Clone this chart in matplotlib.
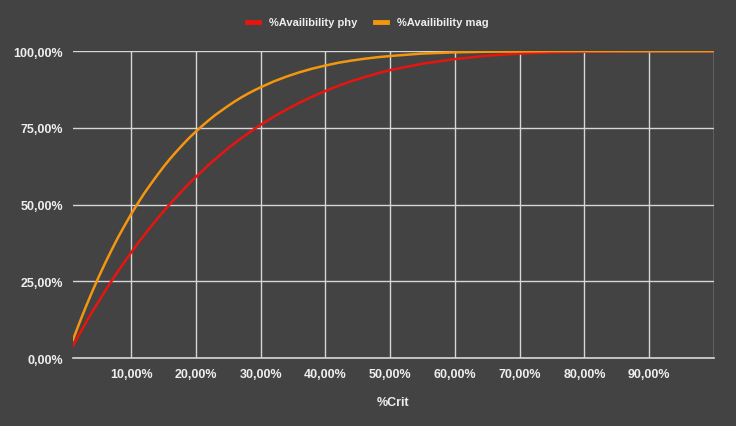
import matplotlib
matplotlib.use("Agg")
import matplotlib.pyplot as plt
from matplotlib.ticker import FuncFormatter, FixedLocator

plt.rcParams["font.family"] = ["Liberation Sans", "DejaVu Sans"]

# %Crit (x, in percent)
crit = [1, 2, 3, 4, 5, 6, 7, 8, 9, 10,
        11, 12, 13, 14, 15, 16, 17, 18, 19, 20,
        21, 22, 23, 24, 25, 26, 27, 28, 29, 30,
        32, 34, 36, 38, 40, 42, 44, 46, 48, 50,
        55, 60, 65, 70, 75, 80, 85, 90, 95, 100]

avail_phy = [3.9, 7.8, 11.5, 15.1, 18.5, 21.9, 25.2, 28.4, 31.4, 34.4,
             37.3, 40.0, 42.7, 45.3, 47.8, 50.2, 52.5, 54.8, 57.0, 59.0,
             61.0, 63.0, 64.8, 66.6, 68.4, 70.0, 71.6, 73.1, 74.6, 76.0,
             78.6, 81.0, 83.2, 85.2, 87.0, 88.7, 90.2, 91.5, 92.7, 93.8,
             95.9, 97.4, 98.5, 99.2, 99.6, 99.8, 99.9, 100.0, 100.0, 100.0]

avail_mag = [5.9, 11.4, 16.7, 21.7, 26.5, 31.0, 35.3, 39.4, 43.2, 46.9,
             50.3, 53.6, 56.6, 59.5, 62.3, 64.9, 67.3, 69.6, 71.8, 73.8,
             75.7, 77.5, 79.2, 80.7, 82.2, 83.6, 84.9, 86.1, 87.2, 88.2,
             90.1, 91.7, 93.1, 94.3, 95.3, 96.2, 96.9, 97.5, 98.0, 98.4,
             99.2, 99.6, 99.8, 99.9, 100.0, 100.0, 100.0, 100.0, 100.0, 100.0]

x_ticks = [10, 20, 30, 40, 50, 60, 70, 80, 90]
y_ticks = [0, 25, 50, 75, 100]

BG = "#434343"
GRID = "#d6d6d6"
TXT = "#eeeeee"

fig = plt.figure(figsize=(7.36, 4.27), dpi=100, facecolor=BG)
ax = fig.add_axes([0.099, 0.159, 0.871, 0.719], facecolor=BG)

ax.plot(crit, avail_phy, color="#e8150f", lw=1.8, label="%Availibility phy", zorder=3)
ax.plot(crit, avail_mag, color="#f5960f", lw=1.8, label="%Availibility mag", zorder=3)

ax.set_xlim(1, 100)
ax.set_ylim(0, 100)
ax.xaxis.set_major_locator(FixedLocator(x_ticks + [100]))
ax.yaxis.set_major_locator(FixedLocator(y_ticks))
pct = FuncFormatter(lambda v, _: f"{v:.2f}%".replace(".", ","))
ax.yaxis.set_major_formatter(pct)
ax.xaxis.set_major_formatter(FuncFormatter(lambda v, _: "" if v >= 100 else pct(v, _)))
ax.grid(True, color=GRID, lw=1, zorder=1)
ax.tick_params(length=0, pad=7, colors=TXT, labelsize=9)
for lab in ax.get_xticklabels() + ax.get_yticklabels():
    lab.set_fontweight("bold")
for s in ["top", "left", "right"]:
    ax.spines[s].set_visible(False)
ax.spines["bottom"].set_color(GRID)
ax.spines["bottom"].set_linewidth(1.2)

ax.set_xlabel("%Crit", color=TXT, fontsize=9, fontweight="bold", labelpad=12)

leg = fig.legend(loc="center", bbox_to_anchor=(0.5, 0.945), ncol=2, frameon=False,
                 fontsize=8, handlelength=1.1, columnspacing=1.6, handletextpad=0.9)
for t in leg.get_texts():
    t.set_color(TXT)
    t.set_fontweight("bold")
for h in leg.legend_handles:
    h.set_linewidth(3.5)

fig.savefig("out.png", dpi=100, facecolor=BG)
